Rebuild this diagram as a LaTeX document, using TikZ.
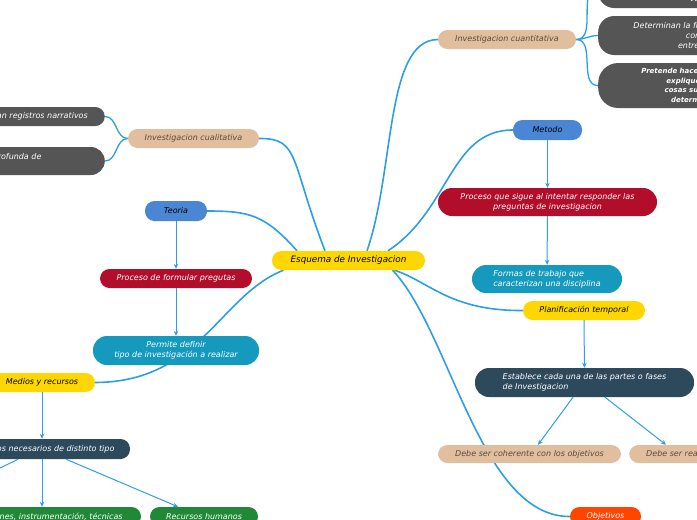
\documentclass[tikz,border=0pt]{standalone}
\usepackage{fontspec}
\setmainfont{DejaVu Sans}
\usetikzlibrary{arrows.meta,backgrounds}
\definecolor{yel}{HTML}{FFD700}
\definecolor{tan}{HTML}{E0BE9E}
\definecolor{tantext}{HTML}{5B4B3D}
\definecolor{darkgray}{HTML}{555555}
\definecolor{skyblue}{HTML}{4A86D4}
\definecolor{crimson}{HTML}{B20D2B}
\definecolor{teal}{HTML}{1599BD}
\definecolor{slate}{HTML}{2D4A5C}
\definecolor{green}{HTML}{218838}
\definecolor{orangered}{HTML}{FF4500}
\definecolor{lineblue}{HTML}{2B9FE6}
\tikzset{
    topic/.style = {fill = yel, text = black},
    sub/.style = {fill = tan, text = tantext},
    note/.style = {fill = darkgray, text = white},
    key/.style = {fill = skyblue, text = black},
    branch/.style = {draw = lineblue, line width = 1.6pt},
    twig/.style = {color = lineblue, line width = 1.3pt}
}
\begin{document}
\begin{tikzpicture}[
    x = 1pt, y = -1pt,
    every node/.style = {rounded corners = 9.5pt, minimum height = 19pt, inner sep = 2pt,
        font = \itshape\fontsize{8}{10}\selectfont, align = center}
]
\useasboundingbox (0,0) rectangle (697,520);
\node[topic, minimum width = 153pt, font = \itshape\fontsize{8.8}{10}\selectfont] (cen) at (348.5,260.5) {Esquema de Investigacion};
% cuantitativa
\node[sub, minimum width = 138pt] (cuan) at (507,39.5) {Investigacion cuantitativa};
\node[note, anchor = west, minimum width = 220pt, minimum height = 39pt, rounded corners = 16pt] (qa) at (598,-11.5) {Usa la recolección de datos\\para probar hipótesis y medir\\variables};
\node[note, anchor = west, minimum width = 220pt, minimum height = 39pt, rounded corners = 16pt] (qb) at (598,35.5) {Determinan la fuerza de asociación o\\correlación\\entre variables};
\node[note, anchor = west, minimum width = 222pt, minimum height = 45pt, rounded corners = 20pt,
    font = \bfseries\itshape\fontsize{7}{9.5}\selectfont] (qc) at (598,85.5) {Pretende hacer que los resultados\\expliquen por qué las\\cosas suceden o no de\\determinada forma};
% cualitativa
\node[sub, minimum width = 131pt] (cual) at (193.5,138.5) {Investigacion cualitativa};
\node[note, anchor = east, inner xsep = 17pt] (la) at (105,116.5) {Se utilizan registros narrativos};
\node[note, anchor = east, minimum width = 274pt, minimum height = 28pt, rounded corners = 14pt] (lb) at (105,161) {Busca una comprensión profunda de\\los fenómenos};
% teoria
\node[key, minimum width = 62pt, minimum height = 20pt] (teo) at (176,211) {Teoria};
\node[fill = crimson, text = white, minimum width = 152pt] (pfp) at (176,278.5) {Proceso de formular pregutas};
\node[fill = teal, text = white, minimum width = 166pt, minimum height = 29pt, rounded corners = 14pt] (pdef) at (176,350.5) {Permite definir\\tipo de investigación a realizar};
% medios
\node[topic, minimum width = 106pt] (med) at (42,382.5) {Medios y recursos};
\node[fill = slate, text = white, minimum width = 176pt, minimum height = 20pt] (rns) at (42,449) {Recursos necesarios de distinto tipo};
\node[fill = green, text = white, minimum width = 198pt] (ins) at (42,516.5) {Instalaciones, instrumentación, técnicas};
\node[fill = green, text = white, minimum width = 108pt] (hum) at (204,516.5) {Recursos humanos};
\coordinate (off) at (-78,507);
% metodo
\node[key, minimum width = 69pt, minimum height = 20pt] (met) at (547.5,130) {Metodo};
\node[fill = crimson, text = white, minimum width = 219pt, minimum height = 28pt, rounded corners = 14pt] (pq) at (547.5,202) {Proceso que sigue al intentar responder las\\preguntas de investigacion};
\node[fill = teal, text = white, minimum width = 150pt, minimum height = 28pt, rounded corners = 14pt, align = left] (form) at (547,279) {Formas de trabajo que\\caracterizan una disciplina};
% planificacion
\node[topic, minimum width = 122pt] (plan) at (584,310.5) {Planificación temporal};
\node[fill = slate, text = white, minimum width = 219pt, minimum height = 29pt, rounded corners = 14pt, align = left] (est) at (584.5,382.5) {Establece cada una de las partes o fases\\de Investigacion};
\node[sub, minimum width = 183pt, minimum height = 18pt] (coh) at (529.5,454) {Debe ser coherente con los objetivos};
\node[sub, anchor = west, minimum height = 18pt, inner xsep = 17pt] (rea) at (629,454) {Debe ser realista};
% objetivos
\node[fill = orangered, text = white, minimum width = 71pt] (obj) at (605.5,516.5) {Objetivos};
% branches
\begin{scope}[on background layer]
\draw[branch] ([xshift = 18.5pt]cen.north) .. controls (395,170) and (385,40) .. (cuan.west);
\draw[branch] ([xshift = -23.5pt]cen.north) .. controls (290,160) and (300,138) .. (cual.east);
\draw[branch] ([xshift = 39.5pt]cen.north) .. controls (450,210) and (450,130) .. (met.west);
\draw[branch] ([xshift = -51.5pt]cen.north) .. controls (265,215) and (250,211) .. (teo.east);
\draw[branch] ([xshift = -65pt]cen.south) .. controls (220,295) and (200,382) .. (med.east);
\draw[branch] ([xshift = 46pt]cen.south) .. controls (430,282) and (450,311) .. (plan.west);
\draw[branch] ([xshift = 44pt]cen.south) .. controls (450,330) and (480,517) .. (obj.west);
\path[twig]
(cuan.east) edge[out = 0, in = 180] (qa.west)
(cuan.east) edge[out = 0, in = 180] (qb.west)
(cuan.east) edge[out = 0, in = 180] (qc.west)
(cual.west) edge[out = 180, in = 0] (la.east)
(cual.west) edge[out = 180, in = 0] (lb.east);
\end{scope}
% arrows
\path[-{Stealth[length = 5pt, width = 4.5pt]}, color = lineblue, line width = 1pt]
(teo) edge (pfp)
(pfp) edge (pdef)
(med) edge (rns)
(rns) edge (ins)
([xshift = 24pt]rns.south) edge ([xshift = -26pt]hum.north)
([xshift = -24pt]rns.south) edge (off)
(met) edge (pq)
(pq) edge (form)
(plan) edge (est)
([xshift = -11.5pt]est.south) edge ([xshift = 8.5pt]coh.north)
([xshift = 20.5pt]est.south) edge ([xshift = 37pt]rea.north west);
\end{tikzpicture}
\end{document}
